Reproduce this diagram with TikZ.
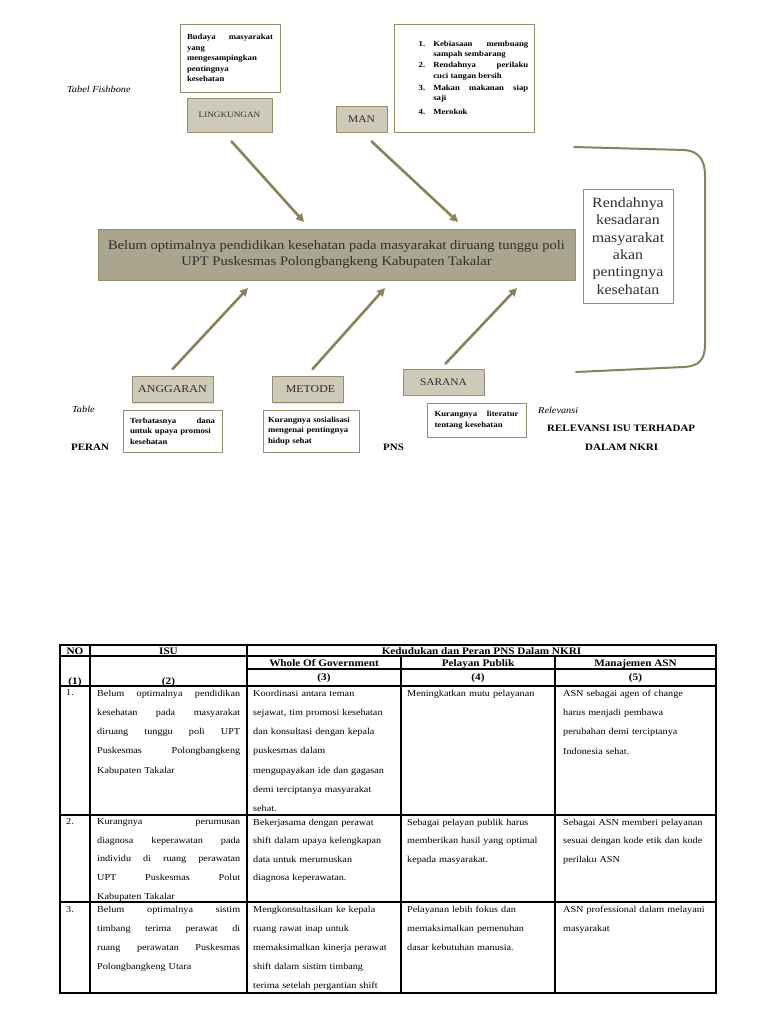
\documentclass[tikz,border=0pt]{standalone}
\usepackage{fontspec}
\setmainfont{Liberation Serif}[FakeStretch=1.12]
\usetikzlibrary{arrows.meta,calc,shadows}

\definecolor{catfill}{RGB}{206,202,186}
\definecolor{probfill}{RGB}{170,165,143}
\definecolor{boneclr}{RGB}{139,129,95}
\definecolor{edgeclr}{RGB}{150,141,110}
\definecolor{inkclr}{RGB}{48,46,42}

% one justified line of a given width
\newcommand{\jl}[2]{\makebox[#1][s]{\spaceskip=0.25em plus 1fil\relax #2}}

\begin{document}
\begin{tikzpicture}[x=1pt, y=-1pt, line cap=round, line join=round,
	catbox/.style={draw=edgeclr, line width=0.8pt, fill=catfill, text=inkclr, inner sep=0pt,
		drop shadow={opacity=0.25, shadow xshift=1.2pt, shadow yshift=-1.2pt}},
	notebox/.style={draw=edgeclr, line width=0.7pt, fill=white, inner sep=0pt,
		font=\fontsize{7.8}{10.5}\selectfont\bfseries},
	bone/.style={draw=boneclr, line width=2.6pt, -{Triangle[length=8pt, width=8pt]}},
	cell/.style={anchor=north west, inner sep=0pt, align=left, font=\fontsize{9.1}{19}\selectfont},
	headtxt/.style={anchor=base, inner sep=0pt, font=\fontsize{10}{10}\selectfont\bfseries},
	tabline/.style={line width=1.1pt, line cap=rect},
	caption/.style={anchor=west, inner sep=0pt, font=\fontsize{9.8}{12}\selectfont\bfseries},
	remark/.style={anchor=west, inner sep=0pt, font=\fontsize{9.2}{11}\selectfont\itshape}]
	
	\useasboundingbox (0,0) rectangle (768,1024);
	\fill[white] (0,0) rectangle (768,1024);
	
	% fishbone: causes above the spine
	\node[remark] (fishlbl) at (67,89) {Tabel Fishbone};
	\node[notebox, text width=86pt, minimum width=100pt, minimum height=68pt, align=left] (budaya) at (230,58)
		{\jl{86pt}{Budaya masyarakat}\\ yang\\ mengesampingkan\\ pentingnya\\ kesehatan};
	\node[catbox, minimum width=85pt, minimum height=34pt, font=\fontsize{8.2}{9}\selectfont] (lingk) at (229.5,115) {LINGKUNGAN};
	\node[catbox, minimum width=51pt, minimum height=26pt, font=\fontsize{10.2}{12}\selectfont] (man) at (361.5,119) {MAN};
	\node[notebox, minimum width=140pt, minimum height=108pt] (manlist) at (464,78) {%
		\begin{tabular}{@{\hspace{19pt}}r@{\hspace{8pt}}p{95pt}@{}}
			1. & \jl{95pt}{Kebiasaan membuang}\\
			& sampah sembarang\\[0.5pt]
			2. & \jl{95pt}{Rendahnya perilaku}\\
			& cuci tangan bersih\\[1.5pt]
			3. & \jl{95pt}{Makan makanan siap}\\
			& saji\\[3pt]
			4. & Merokok
		\end{tabular}};
	
	% the spine (problem) and the conclusion
	\node[catbox, fill=probfill, minimum width=477pt, minimum height=51pt, align=center,
		font=\fontsize{13}{16.5}\selectfont] (prob) at (336.5,254.5)
		{Belum optimalnya pendidikan kesehatan pada masyarakat diruang tunggu poli\\ UPT Puskesmas Polongbangkeng Kabupaten Takalar};
	\node[notebox, minimum width=90pt, minimum height=114pt, align=center, text=inkclr,
		font=\fontsize{14.2}{17.4}\selectfont] (result) at (628,246)
		{Rendahnya\\ kesadaran\\ masyarakat\\ akan\\ pentingnya\\ kesehatan};
	\draw[boneclr, line width=2pt] (574,147) -- (684,150)
		.. controls (699,151) and (705,160) .. (705,176) -- (705,344)
		.. controls (705,360) and (699,366) .. (684,367) -- (576,372);
	
	% fishbone: causes below the spine
	\node[catbox, minimum width=81pt, minimum height=26pt, font=\fontsize{10.7}{12}\selectfont] (angg) at (172.5,389.5) {ANGGARAN};
	\node[catbox, minimum width=71pt, minimum height=26pt, font=\fontsize{10.6}{12}\selectfont] (metode) at (307.5,389.5) {\hspace{6pt}METODE};
	\node[catbox, minimum width=81pt, minimum height=26pt, font=\fontsize{10.2}{12}\selectfont] (sarana) at (443.5,382) {SARANA};
	\node[remark] (tablbl) at (72,409) {Table};
	\node[notebox, text width=85pt, minimum width=99pt, minimum height=42pt, align=left] (dana) at (172.5,431)
		{\jl{85pt}{Terbatasnya dana}\\ untuk upaya promosi\\ kesehatan};
	\node[notebox, text width=86pt, minimum width=96pt, minimum height=42pt, align=left] (sosial) at (311,431)
		{Kurangnya sosialisasi\\ mengenai pentingnya\\ hidup sehat};
	\node[notebox, text width=84pt, minimum width=99pt, minimum height=34pt, align=left] (literatur) at (476.5,420)
		{\jl{84pt}{Kurangnya literatur}\\ tentang kesehatan};
	
	% bones
	\coordinate (tipL) at (304,222);
	\coordinate (tipM) at (458,222);
	\coordinate (tipA) at (248,288);
	\coordinate (tipT) at (385,288);
	\coordinate (tipS) at (517,288);
	\draw[bone] ([xshift=2pt,yshift=-9pt]lingk.south) -- (tipL);
	\draw[bone] ([xshift=10pt,yshift=-9pt]man.south) -- (tipM);
	\draw[bone] ([yshift=7pt]angg.north) -- (tipA);
	\draw[bone] ([xshift=5pt,yshift=7pt]metode.north) -- (tipT);
	\draw[bone] ([xshift=2pt,yshift=5pt]sarana.north) -- (tipS);
	
	% headings between the two parts
	\node[remark] (rellbl) at (538,410) {Relevansi};
	\node[caption] (relcap) at (547,428) {RELEVANSI ISU TERHADAP};
	\node[caption] (peran) at (71,447) {PERAN};
	\node[caption] (pns) at (383,447) {PNS};
	\node[caption] (nkri) at (585,447) {DALAM NKRI};
	
	% table grid
	\foreach \yy in {645,656,686,815,902,993} \draw[tabline] (60,\yy) -- (716,\yy);
	\draw[tabline] (247,669) -- (716,669);
	\foreach \xx in {60,90,247,716} \draw[tabline] (\xx,645) -- (\xx,993);
	\foreach \xx in {401,555} \draw[tabline] (\xx,656) -- (\xx,993);
	
	% table head
	\node[headtxt] (hno) at (75,654) {NO};
	\node[headtxt] (hisu) at (168.5,654) {ISU};
	\node[headtxt] (hked) at (481.5,654) {Kedudukan dan Peran PNS Dalam NKRI};
	\node[headtxt] (hwog) at (324,666.5) {Whole Of Government};
	\node[headtxt] (hpp) at (478,666.5) {Pelayan Publik};
	\node[headtxt] (hasn) at (635.5,666.5) {Manajemen ASN};
	\node[headtxt] (h3) at (324,680) {(3)};
	\node[headtxt] (h4) at (478,680) {(4)};
	\node[headtxt] (h5) at (635.5,680) {(5)};
	\node[headtxt] (h1) at (75,684.5) {(1)};
	\node[headtxt] (h2) at (168.5,684.5) {(2)};
	
	% row 1
	\begin{scope}[cell/.append style={font=\fontsize{9.1}{19.3}\selectfont}]
	\node[cell, text width=20pt] (c11) at (66,689.5) {1.};
	\node[cell, text width=143pt] (c12) at (97,689.5)
		{\jl{143pt}{Belum optimalnya pendidikan}\\ \jl{143pt}{kesehatan pada masyarakat}\\
		 \jl{143pt}{diruang tunggu poli UPT}\\ \jl{143pt}{Puskesmas Polongbangkeng}\\ Kabupaten Takalar};
	\node[cell, text width=146pt] (c13) at (253,689.5)
		{Koordinasi antara teman\\ sejawat, tim promosi kesehatan\\ dan konsultasi dengan kepala\\ puskesmas dalam\\
		 mengupayakan ide dan gagasan\\ demi terciptanya masyarakat\\ sehat.};
	\node[cell, text width=146pt] (c14) at (407,689.5) {Meningkatkan mutu pelayanan};
	\node[cell, text width=150pt] (c15) at (563,689.5)
		{ASN sebagai agen of change\\ harus menjadi pembawa\\ perubahan demi terciptanya\\ Indonesia sehat.};
	\end{scope}
	
	% row 2
	\begin{scope}[cell/.append style={font=\fontsize{9.1}{18.6}\selectfont}]
	\node[cell, text width=20pt] (c21) at (66,818.5) {2.};
	\node[cell, text width=143pt] (c22) at (97,818.5)
		{\jl{143pt}{Kurangnya perumusan}\\ \jl{143pt}{diagnosa keperawatan pada}\\
		 \jl{143pt}{individu di ruang perawatan}\\ \jl{143pt}{UPT Puskesmas Polut}\\ Kabupaten Takalar};
	\node[cell, text width=146pt] (c23) at (253,818.5)
		{Bekerjasama dengan perawat\\ shift dalam upaya kelengkapan\\ data untuk merumuskan\\ diagnosa keperawatan.};
	\node[cell, text width=146pt] (c24) at (407,818.5)
		{Sebagai pelayan publik harus\\ memberikan hasil yang optimal\\ kepada masyarakat.};
	\node[cell, text width=150pt] (c25) at (563,818.5)
		{Sebagai ASN memberi pelayanan\\ sesuai dengan kode etik dan kode\\ perilaku ASN};
	\end{scope}
	
	% row 3
	\node[cell, text width=20pt] (c31) at (66,906) {3.};
	\node[cell, text width=143pt] (c32) at (97,906)
		{\jl{143pt}{Belum optimalnya sistim}\\ \jl{143pt}{timbang terima perawat di}\\
		 \jl{143pt}{ruang perawatan Puskesmas}\\ Polongbangkeng Utara};
	\node[cell, text width=146pt] (c33) at (253,906)
		{Mengkonsultasikan ke kepala\\ ruang rawat inap  untuk\\ memaksimalkan kinerja perawat\\ shift dalam sistim timbang\\ terima setelah pergantian shift};
	\node[cell, text width=146pt] (c34) at (407,906)
		{Pelayanan lebih fokus dan\\ memaksimalkan pemenuhan\\ dasar kebutuhan manusia.};
	\node[cell, text width=150pt] (c35) at (563,906)
		{ASN professional dalam melayani\\ masyarakat};
	
\end{tikzpicture}
\end{document}
